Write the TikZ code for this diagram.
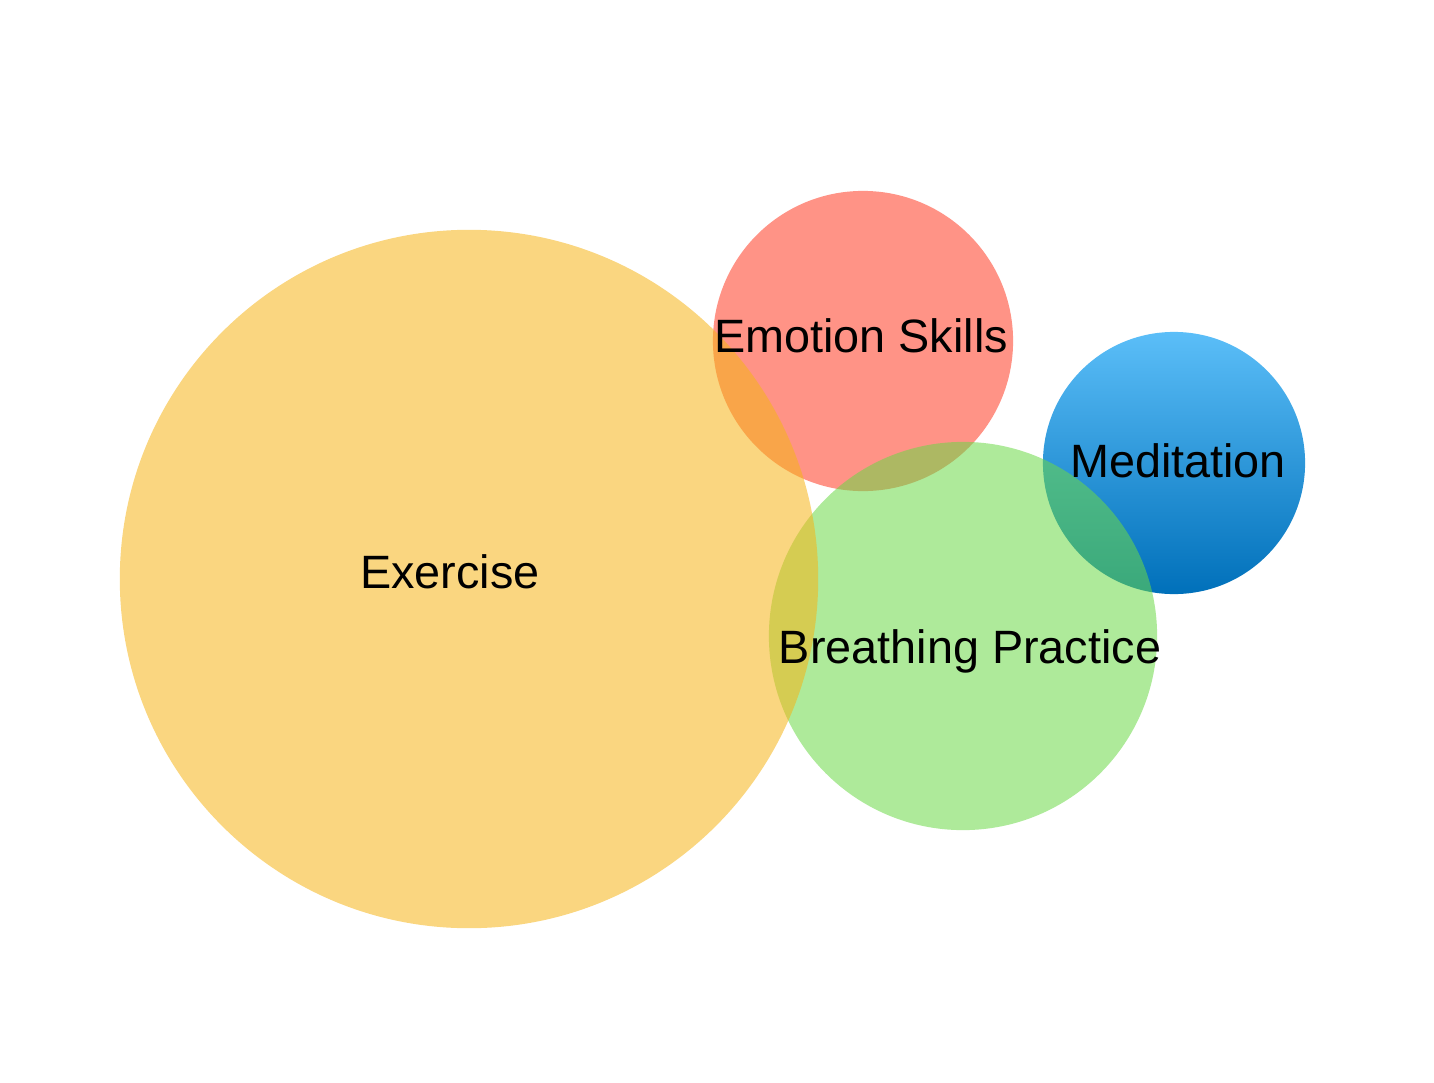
\documentclass[tikz,border=0pt]{standalone}
\usepackage{fontspec}
\setmainfont{Liberation Sans}
\usetikzlibrary{positioning}

\definecolor{exyellow}{HTML}{F5B418}
\definecolor{emred}{HTML}{FF3A23}
\definecolor{brgreen}{HTML}{6BD847}
\definecolor{medtop}{HTML}{5BBEF8}
\definecolor{medbottom}{HTML}{0070BA}

\begin{document}
\begin{tikzpicture}[x=0.01cm, y=-0.01cm,
						% Define a style for the circles and their texts
						bubble/.style={circle, inner sep=0pt, draw=none, fill opacity=0.55},
						bubble text/.style={anchor=base, inner sep=0pt, font=\fontsize{13.3}{16}\selectfont}
						]
						
						\useasboundingbox (0,0) rectangle (1434,1082);
						
						% Place the circles (back to front)
						\node[bubble, fill=emred, minimum size=3cm] (emotion) at (863, 341) {};
						\node[circle, inner sep=0pt, top color=medtop, bottom color=medbottom, minimum size=2.62cm] (meditation) at (1174, 463) {};
						\node[bubble, fill=brgreen, minimum size=3.88cm] (breathing) at (963, 636) {};
						\node[bubble, fill=exyellow, minimum size=6.98cm] (exercise) at (469, 579) {};
						
						% --- Texts ---
						\node[bubble text] (exercise text) at (450, 588) {Exercise};
						\node[bubble text] (emotion text) at (861, 352) {Emotion Skills};
						\node[bubble text] (meditation text) at (1178, 477) {Meditation};
						\node[bubble text] (breathing text) at (970, 663) {Breathing Practice};
					\end{tikzpicture}
\end{document}
